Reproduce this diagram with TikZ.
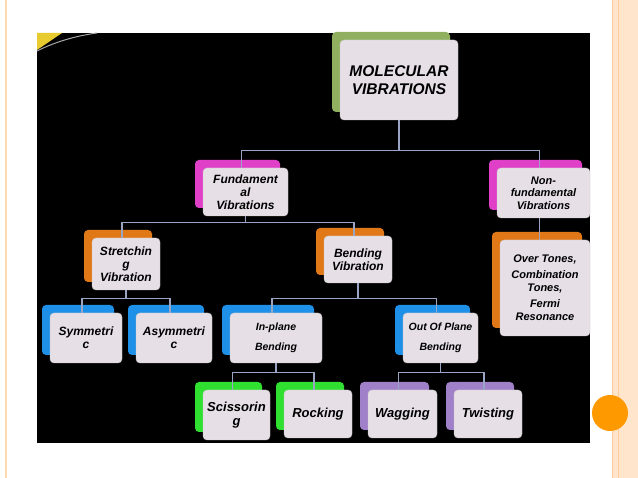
\documentclass[tikz,border=0pt]{standalone}
\usepackage{fontspec}
\setmainfont{Liberation Sans}
\begin{document}
\begin{tikzpicture}[x=1pt,y=-1pt,
  front/.style={draw=gray!40,fill=frontc,rounded corners=4pt,align=center,
    font=\fontsize{12}{13}\selectfont\bfseries\itshape,inner sep=1pt},
  conn/.style={draw=linec,line width=1.2pt}]
\definecolor{frontc}{HTML}{E6DFE6}
\definecolor{linec}{HTML}{9AA4C4}
\definecolor{mag}{HTML}{E040C8}
\definecolor{org}{HTML}{E07818}
\definecolor{blu}{HTML}{1E90E8}
\definecolor{grn}{HTML}{30E030}
\definecolor{pur}{HTML}{A080C8}
\definecolor{olv}{HTML}{90B060}
\useasboundingbox (0,0) rectangle (638,478);
\fill[white] (0,0) rectangle (638,478);
\fill[orange!20!white] (612,0) rectangle (638,478);
\draw[orange!40] (612,0) -- (612,478);
\draw[orange!40] (618,0) -- (618,478);
\draw[orange!30,line width=1.5pt] (6,0) -- (6,478);
\fill[black] (37,33) rectangle (590,443);
\fill[orange!80!yellow] (610,413) circle (18);
\fill[black!0!yellow!60!brown] (37,33) -- (62,33) -- (37,50) -- cycle;
\draw[gray!70,line width=1pt] (37,51) .. controls (55,42) and (75,36) .. (97,33);
\newcommand\mycard[8][]{%
  \fill[#3,rounded corners=4pt] (#4-8,#5-8) rectangle (#6-8,#7-8);
  \node[front,minimum width=#6-#4,minimum height=#7-#5,#1] (#2) at ({(#4+#6)/2},{(#5+#7)/2}) {#8};}
\mycard[font=\fontsize{15.5}{18}\selectfont\bfseries\itshape]{mol}{olv}{340}{40}{458}{120}{MOLECULAR\\VIBRATIONS}
\mycard{fun}{mag}{203}{168}{288}{216}{Fundament\\al\\Vibrations}
\mycard[font=\fontsize{11}{12.5}\selectfont\bfseries\itshape]{non}{mag}{497}{168}{590}{218}{Non-\\fundamental\\Vibrations}
\mycard{str}{org}{92}{238}{160}{290}{Stretchin\\g\\Vibration}
\mycard{ben}{org}{324}{236}{392}{283}{Bending\\Vibration}
\mycard[font=\fontsize{11}{13}\selectfont\bfseries\itshape]{ovr}{org}{500}{240}{590}{336}{Over Tones,\\[3pt]Combination\\Tones,\\[3pt]Fermi\\Resonance}
\mycard{sym}{blu}{50}{313}{122}{363}{Symmetri\\c}
\mycard{asy}{blu}{136}{313}{212}{363}{Asymmetri\\c}
\mycard[font=\fontsize{10.5}{12}\selectfont\bfseries\itshape]{inp}{blu}{230}{313}{322}{363}{In-plane\\[8pt]Bending}
\mycard[font=\fontsize{10.5}{12}\selectfont\bfseries\itshape]{oop}{blu}{403}{313}{478}{363}{Out Of Plane\\[8pt]Bending}
\mycard[font=\fontsize{13}{14}\selectfont\bfseries\itshape]{sci}{grn}{203}{390}{270}{440}{Scissorin\\g}
\mycard[font=\fontsize{13}{14}\selectfont\bfseries\itshape]{roc}{grn}{284}{390}{352}{438}{Rocking}
\mycard[font=\fontsize{13}{14}\selectfont\bfseries\itshape]{wag}{pur}{368}{390}{437}{438}{Wagging}
\mycard[font=\fontsize{13}{14}\selectfont\bfseries\itshape]{twi}{pur}{454}{390}{522}{438}{Twisting}
\draw[conn] (mol.south) -- ++(0,30) -| ([xshift=-4pt]fun.north);
\draw[conn] (mol.south) ++(0,30) -| ([xshift=-4pt]non.north);
\draw[conn] ([xshift=-4pt]non.south) -- ([xshift=-4pt]non.south |- ovr.north);
\draw[conn] (fun.south) -- ++(0,6) -| ([xshift=-4pt]str.north);
\draw[conn] (fun.south) ++(0,6) -| ([xshift=-4pt]ben.north);
\draw[conn] (str.south) -- ++(0,8) -| ([xshift=-4pt]sym.north);
\draw[conn] (str.south) ++(0,8) -| ([xshift=-4pt]asy.north);
\draw[conn] (ben.south) -- ++(0,15) -| ([xshift=-4pt]inp.north);
\draw[conn] (ben.south) ++(0,15) -| ([xshift=-4pt]oop.north);
\draw[conn] (inp.south) -- ++(0,9) -| ([xshift=-4pt]sci.north);
\draw[conn] (inp.south) ++(0,9) -| ([xshift=-4pt]roc.north);
\draw[conn] (oop.south) -- ++(0,9) -| ([xshift=-4pt]wag.north);
\draw[conn] (oop.south) ++(0,9) -| ([xshift=-4pt]twi.north);
\end{tikzpicture}
\end{document}
